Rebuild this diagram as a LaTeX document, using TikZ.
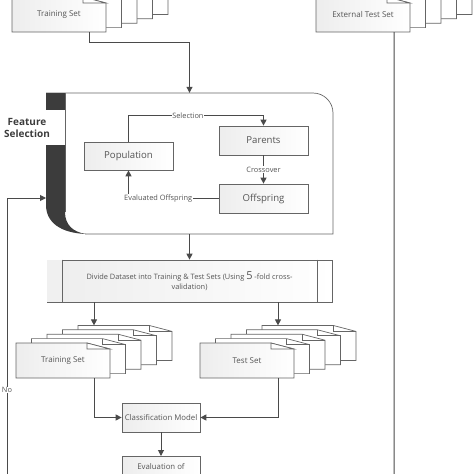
\documentclass[tikz,border=0pt]{standalone}
\usepackage{fontspec}
\setmainfont{Open Sans}
\usetikzlibrary{arrows.meta,calc}
\definecolor{ln}{HTML}{4A4A4A}
\definecolor{tx}{HTML}{555555}
\definecolor{dk}{HTML}{3C3C3C}
\newcommand\sheetshape[2]{(#1,#2) -- ++(71,0) -- ++(23,6) -- ++(0,29) -- ++(-94,0) -- cycle}
\newcommand\docstack[2]{%
  \foreach \i in {4,3,2,1}{%
    \begin{scope}[shift={(15.5*\i,-4.4*\i)}]
      \draw[sheetline, fill=white] \sheetshape{#1}{#2};
      \draw[sheetline] (#1+71,#2) -- ++(0,6) -- ++(23,0);
    \end{scope}}
  \draw[sheetline, left color=gray!14, right color=white] \sheetshape{#1}{#2};
  \draw[sheetline, fill=white] (#1+71,#2) -- ++(0,6) -- ++(23,0) -- cycle;
}
\tikzset{
  sheetline/.style={draw=ln!85, line width=0.7pt},
  box/.style={draw=ln!85, line width=0.7pt, left color=gray!14, right color=white, text=tx, font=\fontsize{9.6}{11}\selectfont, inner sep=0pt},
  smallbox/.style={box, font=\fontsize{7.8}{9.5}\selectfont},
  doclabel/.style={draw=none, text=tx, font=\fontsize{8}{9}\selectfont, minimum width=94pt, minimum height=35pt, inner sep=0pt},
  conn/.style={draw=ln, line width=1pt},
  arr/.style={conn, -{Triangle[length=6pt,width=6pt]}},
  lbl/.style={fill=white, text=tx, font=\fontsize{7.4}{8.5}\selectfont, inner sep=0.6pt},
}
\begin{document}
\begin{tikzpicture}[x=1pt,y=-1pt]
\useasboundingbox (0,0) rectangle (474,474);
\clip (0,0) rectangle (474,474);
% top stacks
\docstack{12}{-3}
\node[doclabel] (trtop) at (59,14.5) {Training Set};
\docstack{316}{-3}
\node[doclabel] (ext) at (363,14.5) {External Test Set};
% feature selection container
\node[draw=none, minimum width=287pt, minimum height=141pt, inner sep=0pt] (fs) at (189.5,163.5) {};
\draw[sheetline] (46,93) -- (313,93) .. controls (324,93) and (333,102) .. (333,113) -- (333,234) -- (85,234);
\draw[sheetline] (65,93) -- (65,212);
\fill[dk] (46,93) rectangle (65,110);
\fill[dk] (46,145) -- (46,205) .. controls (46,222) and (60,233) .. (86,234) .. controls (73,232) and (65,225) .. (65,212) -- (65,145) -- cycle;
\node[text=dk, font=\bfseries\fontsize{10}{12.5}\selectfont, align=center] (fslabel) at (27,128) {Feature\\Selection};
% inner boxes
\node[box, minimum width=89pt, minimum height=28pt] (pop) at (128.5,156) {Population};
\node[box, minimum width=89pt, minimum height=29pt] (par) at (263.5,140.5) {Parents};
\node[box, minimum width=89pt, minimum height=29pt] (off) at (263.5,198.5) {Offspring};
\draw[arr] (pop.north) -- ++(0,-26) coordinate (s1) -- node[lbl, pos=0.44]{Selection} (s1 -| par.north) -- (par.north);
\draw[arr] (par.south) -- node[lbl]{Crossover} (off.north);
\draw[arr] (off.west) -- node[lbl, pos=0.67]{Evaluated Offspring} (off.west -| pop.south) -- (pop.south);
\draw[arr] ([xshift=-17pt]trtop.south east) -- ++(0,10) -| (fs.north);
% divide box
\node[box, minimum width=285pt, minimum height=42pt] (div) at (189.5,281) {};
\fill[gray!12] ([xshift=0.35pt,yshift=-0.35pt]div.north west) rectangle ([xshift=16pt,yshift=0.35pt]div.south west);
\draw[sheetline] ([xshift=16pt]div.north west) -- ([xshift=16pt]div.south west);
\draw[sheetline] ([xshift=-15pt]div.north east) -- ([xshift=-15pt]div.south east);
\node[text=tx, font=\fontsize{7.4}{9.5}\selectfont, align=center] (divtext) at (div.center) {Divide Dataset into Training \& Test Sets (Using {\fontsize{11}{9.5}\selectfont 5} -fold cross-\\validation)};
\draw[arr] (fs.south) -- (div.north);
% bottom stacks
\docstack{16}{343}
\node[doclabel] (tr) at (63,360.5) {Training Set};
\docstack{200}{343}
\node[doclabel] (te) at (247,360.5) {Test Set};
\coordinate (trback) at (94,325.4);
\coordinate (teback) at (278,325.4);
\draw[arr] (div.south -| trback) -- (trback);
\draw[arr] (div.south -| teback) -- (teback);
% classification
\node[smallbox, minimum width=78pt, minimum height=29pt] (cm) at (161,417.5) {Classification Model};
\node[smallbox, minimum width=78pt, minimum height=36pt, anchor=north] (ev) at (161,456) {};
\node[text=tx, font=\fontsize{7.8}{9.5}\selectfont] (evtext) at (161,467) {Evaluation of};
\draw[arr] ([xshift=-16pt]tr.south east) |- (cm.west);
\draw[arr] ([xshift=-16pt]te.south east) |- (cm.east);
\draw[arr] (cm.south) -- (ev.north);
% external line
\coordinate (extend) at (394,476);
\draw[conn] ([xshift=-16pt]ext.south east) -- (extend);
% No loop
\coordinate (nostart) at (7,476);
\coordinate (fsin) at (46,198);
\draw[arr] (nostart) -- node[lbl, pos=0.31]{No} (nostart |- fsin) -- (fsin);
\end{tikzpicture}
\end{document}
